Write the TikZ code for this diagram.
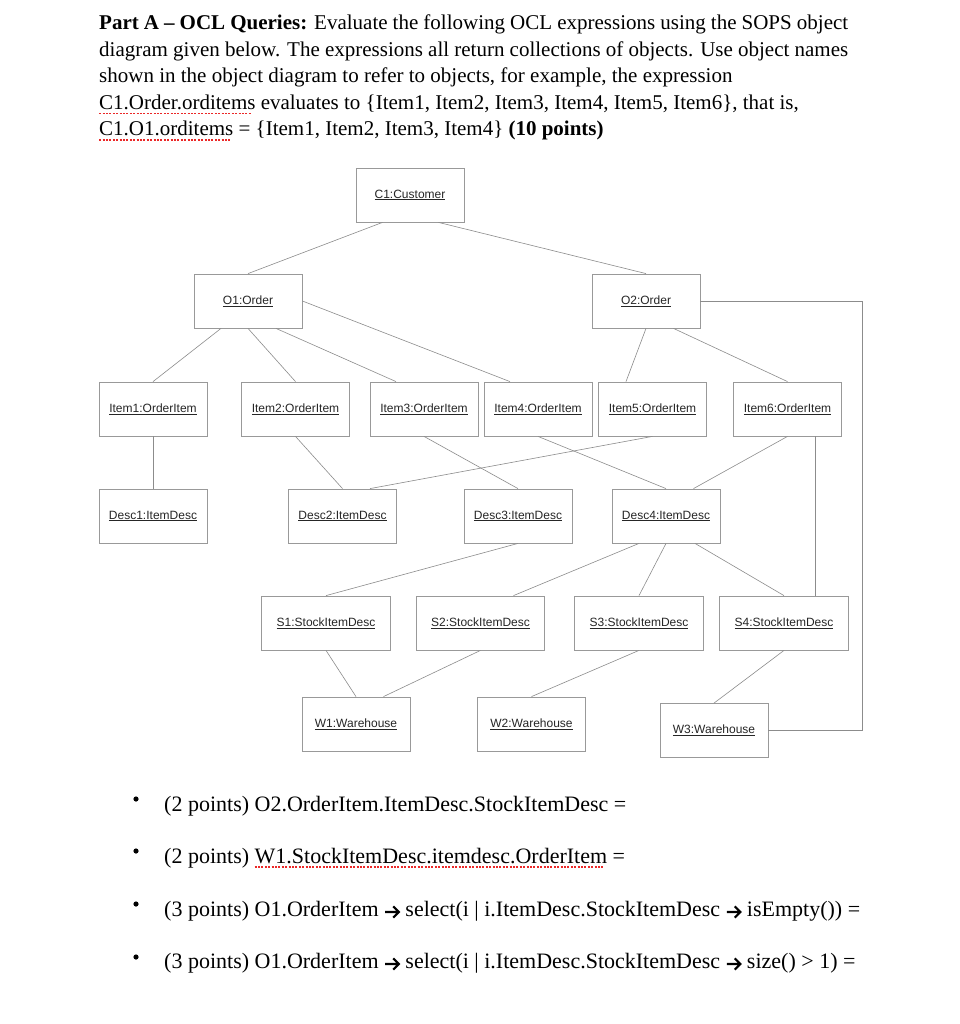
\documentclass[tikz,border=0pt]{standalone}
\usepackage{fontspec}
\setmainfont{Liberation Serif}
\newfontfamily\boxfont{Liberation Sans}
\definecolor{spell}{RGB}{235,40,40}
\newsavebox\spbox
\newcommand\spellul[1]{\sbox\spbox{#1}\rlap{\textcolor{spell}{\raisebox{-4.6pt}{\hbox to \wd\spbox{\leaders\hbox{\rule{2pt}{1.5pt}\kern1.4pt}\hfill}}}}\usebox\spbox}
\newcommand\thickarrow{\tikz[baseline={(0pt,-4pt)}, x=1pt, y=1pt]{\draw[line width=2.2pt, miter limit=10] (0,0) -- (13,0) (8,5.6) -- (13.6,0) -- (8,-5.6);}}
\begin{document}
\begin{tikzpicture}[x=1pt,y=-1pt,
  obj/.style={draw=black!40, line width=0.8pt, minimum width=108pt, minimum height=54pt, inner sep=0pt,
    font=\boxfont\fontsize{12}{14}\selectfont, text=black!85},
  wideobj/.style={obj, minimum width=128.5pt},
  link/.style={draw=black!45, line width=0.6pt},
  txt/.style={anchor=base west, inner sep=0pt, font=\fontsize{21}{25}\selectfont},
  qtxt/.style={txt, font=\fontsize{22}{26}\selectfont}]
\useasboundingbox[fill=white] (0,0) rectangle (959,1024);

% header
\node[txt] (h1) at (99,30) {\makebox[749pt][s]{\textbf{Part A – OCL Queries:} Evaluate the following OCL expressions using the SOPS object}};
\node[txt] (h2) at (99,56.5) {\makebox[749pt][s]{diagram given below. The expressions all return collections of objects. Use object names}};
\node[txt] (h3) at (99,83) {shown in the object diagram to refer to objects, for example, the expression};
\node[txt] (h4) at (99,109.5) {\spellul{C1.Order.orditems} evaluates to \{Item1, Item2, Item3, Item4, Item5, Item6\}, that is,};
\node[txt] (h5) at (99,136) {\spellul{C1.O1.orditems} = \{Item1, Item2, Item3, Item4\} \textbf{(10 points)}};

% objects
\node[obj] (C1) at (410,195) {\underline{C1:Customer}};
\node[obj] (O1) at (248,301) {\underline{O1:Order}};
\node[obj] (O2) at (646,301) {\underline{O2:Order}};
\node[obj] (I1) at (153,409) {\underline{Item1:OrderItem}};
\node[obj] (I2) at (295.5,409) {\underline{Item2:OrderItem}};
\node[obj] (I3) at (424,409) {\underline{Item3:OrderItem}};
\node[obj] (I4) at (538,409) {\underline{Item4:OrderItem}};
\node[obj] (I5) at (652.5,409) {\underline{Item5:OrderItem}};
\node[obj] (I6) at (787.5,409) {\underline{Item6:OrderItem}};
\node[obj] (D1) at (153,516) {\underline{Desc1:ItemDesc}};
\node[obj] (D2) at (342.5,516) {\underline{Desc2:ItemDesc}};
\node[obj] (D3) at (518,516) {\underline{Desc3:ItemDesc}};
\node[obj] (D4) at (666,516) {\underline{Desc4:ItemDesc}};
\node[wideobj] (S1) at (326,623) {\underline{S1:StockItemDesc}};
\node[wideobj] (S2) at (480.5,623) {\underline{S2:StockItemDesc}};
\node[wideobj] (S3) at (639,623) {\underline{S3:StockItemDesc}};
\node[wideobj] (S4) at (784,623) {\underline{S4:StockItemDesc}};
\node[obj] (W1) at (356,724) {\underline{W1:Warehouse}};
\node[obj] (W2) at (531.5,724) {\underline{W2:Warehouse}};
\node[obj] (W3) at (714,730.5) {\underline{W3:Warehouse}};
\coordinate (rt) at (862.5,301);

% links
\draw[link] ([xshift=-27.5pt]C1.south) -- (O1.north);
\draw[link] ([xshift=28.5pt]C1.south) -- (O2.north);
\draw[link] ([xshift=-27pt]O1.south) -- (I1.north);
\draw[link] (O1.south) -- (I2.north);
\draw[link] ([xshift=28pt]O1.south) -- ([xshift=-28pt]I3.north);
\draw[link] (O1.east) -- ([xshift=-28pt]I4.north);
\draw[link] (O2.south) -- ([xshift=-26.5pt]I5.north);
\draw[link] ([xshift=27.5pt]O2.south) -- (I6.north);
\draw[link] (I1.south) -- (D1.north);
\draw[link] (I2.south) -- (D2.north);
\draw[link] (I3.south) -- (D3.north);
\draw[link] (I4.south) -- (D4.north);
\draw[link] (I5.south) -- ([xshift=27.5pt]D2.north);
\draw[link] (I6.south) -- ([xshift=27.5pt]D4.north);
\draw[link] ([xshift=27.5pt]I6.south) -- ([xshift=27.5pt]I6.south |- S4.north);
\draw[link] (D3.south) -- (S1.north);
\draw[link] ([xshift=-27pt]D4.south) -- ([xshift=33pt]S2.north);
\draw[link] (D4.south) -- (S3.north);
\draw[link] ([xshift=29pt]D4.south) -- (S4.north);
\draw[link] (S1.south) -- (W1.north);
\draw[link] (S2.south) -- ([xshift=27.5pt]W1.north);
\draw[link] (S3.south) -- (W2.north);
\draw[link] (S4.south) -- (W3.north);
\draw[link] (W3.east) -- (W3.east -| rt) -- (rt) -- (O2.east);

% questions
\foreach \yy in {799,851,904,957} \fill (136,\yy) circle (2.6pt);
\node[qtxt] (q1) at (164,811) {(2 points) O2.OrderItem.ItemDesc.StockItemDesc =};
\node[qtxt] (q2) at (164,863) {(2 points) \spellul{W1.StockItemDesc.itemdesc.OrderItem} =};
\node[qtxt] (q3) at (164,916) {(3 points) O1.OrderItem \thickarrow\ select(i | i.ItemDesc.StockItemDesc \thickarrow\ isEmpty()) =};
\node[qtxt] (q4) at (164,968) {(3 points) O1.OrderItem \thickarrow\ select(i | i.ItemDesc.StockItemDesc \thickarrow\ size() > 1) =};
\end{tikzpicture}
\end{document}
